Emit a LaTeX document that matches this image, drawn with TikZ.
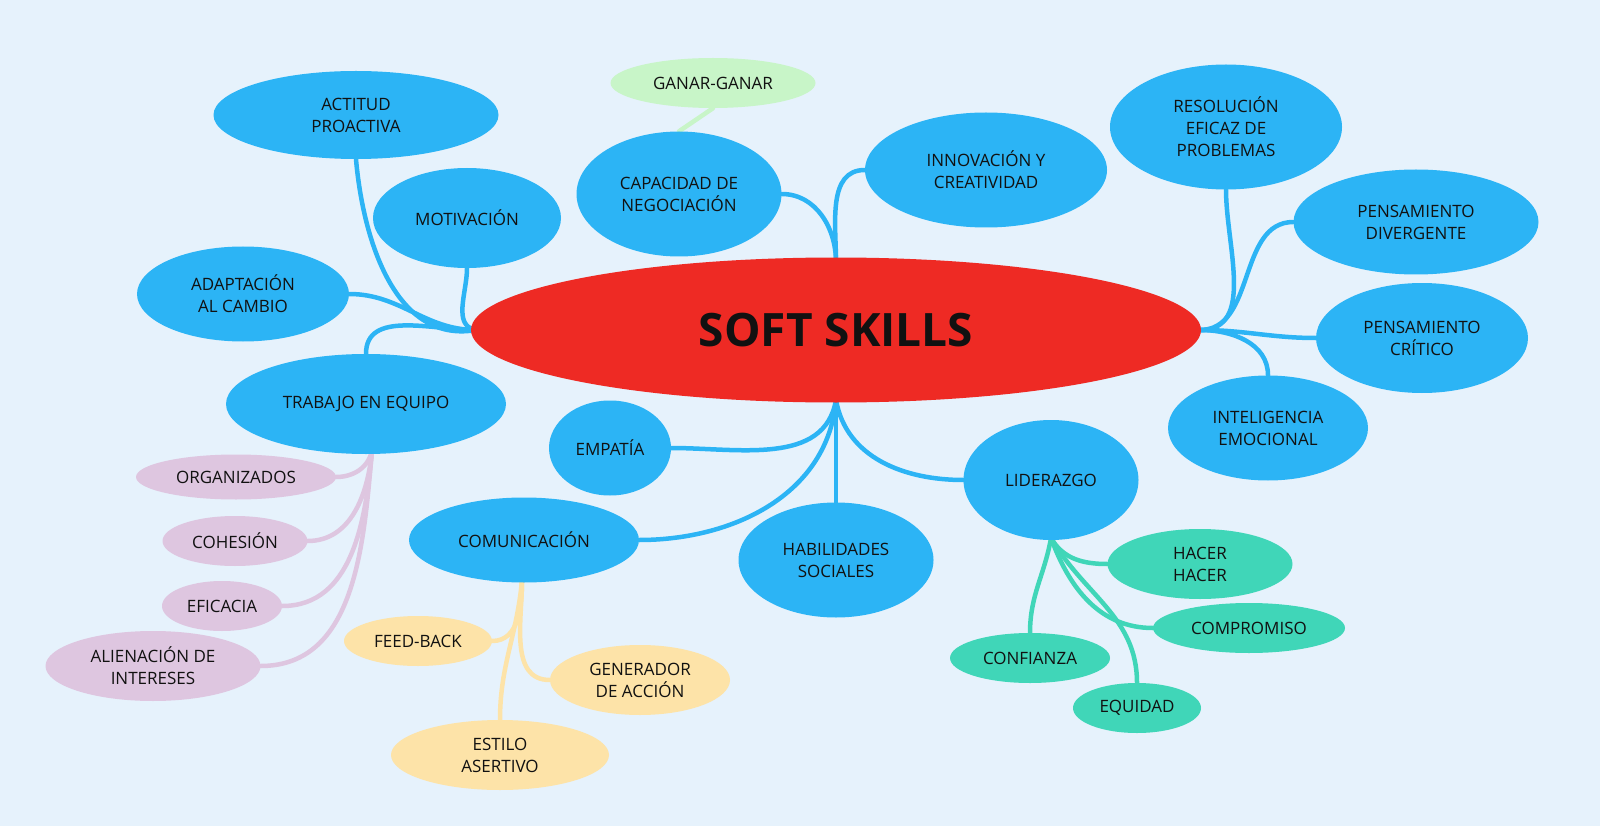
\documentclass[tikz,border=0pt]{standalone}
\usepackage{fontspec}
\setmainfont{Open Sans}
\usetikzlibrary{shapes.geometric,backgrounds}
\definecolor{bg}{HTML}{E6F2FC}
\definecolor{cblue}{HTML}{2CB4F5}
\definecolor{cred}{HTML}{EE2A24}
\definecolor{cgreen}{HTML}{C8F5C8}
\definecolor{cpurple}{HTML}{DEC6E0}
\definecolor{cyellow}{HTML}{FDE3A8}
\definecolor{cteal}{HTML}{40D6B8}
\definecolor{txt}{HTML}{111111}
\tikzset{
 el/.style n args={3}{ellipse,fill=#1,minimum width=#2pt,minimum height=#3pt,inner sep=0pt,align=center,text=txt,font=\fontsize{17}{22}\selectfont},
 bl/.style 2 args={el={cblue}{#1}{#2}},
 pu/.style 2 args={el={cpurple}{#1}{#2}},
 ye/.style 2 args={el={cyellow}{#1}{#2}},
 te/.style 2 args={el={cteal}{#1}{#2}},
 con/.style={draw=#1,line width=4.5pt,line cap=round},
}
\begin{document}
\begin{tikzpicture}[x=1pt,y=-1pt]
\useasboundingbox (0,0) rectangle (1600,826);
\node[el={cred}{730}{145},font=\fontsize{46}{50}\selectfont\bfseries] (ss) at (836,330) {SOFT SKILLS};
\node[bl={285}{88}] (act) at (356,115) {ACTITUD\\PROACTIVA};
\node[bl={188}{100}] (mot) at (467,218) {MOTIVACIÓN};
\node[bl={212}{95}] (ada) at (243,294) {ADAPTACIÓN\\AL CAMBIO};
\node[bl={280}{100}] (tra) at (366,404) {TRABAJO EN EQUIPO};
\node[bl={205}{125}] (cap) at (679,194) {CAPACIDAD DE\\NEGOCIACIÓN};
\node[el={cgreen}{205}{50}] (gan) at (713,83) {GANAR-GANAR};
\node[bl={242}{115}] (inn) at (986,170) {INNOVACIÓN Y\\CREATIVIDAD};
\node[bl={232}{125}] (res) at (1226,127) {RESOLUCIÓN\\EFICAZ DE\\PROBLEMAS};
\node[bl={245}{105}] (div) at (1416,222) {PENSAMIENTO\\DIVERGENTE};
\node[bl={212}{110}] (cri) at (1422,338) {PENSAMIENTO\\CRÍTICO};
\node[bl={200}{105}] (int) at (1268,428) {INTELIGENCIA\\EMOCIONAL};
\node[bl={175}{120}] (lid) at (1051,480) {LIDERAZGO};
\node[bl={195}{115}] (hab) at (836,560) {HABILIDADES\\SOCIALES};
\node[bl={122}{95}] (emp) at (610,448) {EMPATÍA};
\node[bl={230}{85}] (com) at (524,540) {COMUNICACIÓN};
\node[pu={200}{45}] (org) at (236,477) {ORGANIZADOS};
\node[pu={145}{50}] (coh) at (235,541) {COHESIÓN};
\node[pu={120}{50}] (efi) at (222,606) {EFICACIA};
\node[pu={215}{70}] (ali) at (153,666) {ALIENACIÓN DE\\INTERESES};
\node[ye={148}{50}] (fee) at (418,641) {FEED-BACK};
\node[ye={180}{70}] (gen) at (640,680) {GENERADOR\\DE ACCIÓN};
\node[ye={218}{70}] (est) at (500,755) {ESTILO\\ASERTIVO};
\node[te={185}{70}] (hac) at (1200,564) {HACER\\HACER};
\node[te={192}{50}] (cmp) at (1249,628) {COMPROMISO};
\node[te={160}{50}] (cnf) at (1030,658) {CONFIANZA};
\node[te={128}{50}] (equ) at (1137,708) {EQUIDAD};
\coordinate (hl) at (476,330);
\coordinate (ht) at (836,262);
\coordinate (hr) at (1200,330);
\coordinate (hb) at (836,400);
\coordinate (ht2) at (372,450);
\coordinate (hc) at (522,580);
\coordinate (hd) at (1051,538);
\begin{scope}[on background layer]
\fill[bg] (0,0) rectangle (1600,826);
\draw[con=cblue] (hl) to[out=190,in=-85] (act.south);
\draw[con=cblue] (hl) to[out=170,in=-90] (mot.south);
\draw[con=cblue] (hl) to[out=180,in=0] (ada.east);
\draw[con=cblue] (hl) to[out=180,in=90] (tra.north);
\draw[con=cblue] (ht) to[out=90,in=0] (cap.east);
\draw[con=cblue] (ht) to[out=90,in=180] (inn.west);
\draw[con=cblue] (hr) to[out=0,in=-90] (res.south);
\draw[con=cblue] (hr) to[out=0,in=180] (div.west);
\draw[con=cblue] (hr) to[out=0,in=180] (cri.west);
\draw[con=cblue] (hr) to[out=0,in=90] (int.north);
\draw[con=cblue] (hb) to[out=-100,in=0] (emp.east);
\draw[con=cblue] (hb) to[out=-95,in=0] (com.east);
\draw[con=cblue] (hb) -- (hab.north);
\draw[con=cblue] (hb) to[out=-80,in=180] (lid.west);
\draw[con=cgreen] (cap.north) -- (gan.south);
\draw[con=cpurple] (ht2) to[out=-100,in=0] (org.east);
\draw[con=cpurple] (ht2) to[out=-95,in=0] (coh.east);
\draw[con=cpurple] (ht2) to[out=-95,in=0] (efi.east);
\draw[con=cpurple] (ht2) to[out=-95,in=0] (ali.east);
\draw[con=cyellow] (hc) to[out=-90,in=0] (fee.east);
\draw[con=cyellow] (hc) to[out=-90,in=180] (gen.west);
\draw[con=cyellow] (hc) to[out=-95,in=90] (est.north);
\draw[con=cteal] (hd) to[out=-60,in=180] (hac.west);
\draw[con=cteal] (hd) to[out=-70,in=180] (cmp.west);
\draw[con=cteal] (hd) to[out=-100,in=90] (cnf.north);
\draw[con=cteal] (hd) to[out=-60,in=90] (equ.north);
\end{scope}
\end{tikzpicture}
\end{document}
